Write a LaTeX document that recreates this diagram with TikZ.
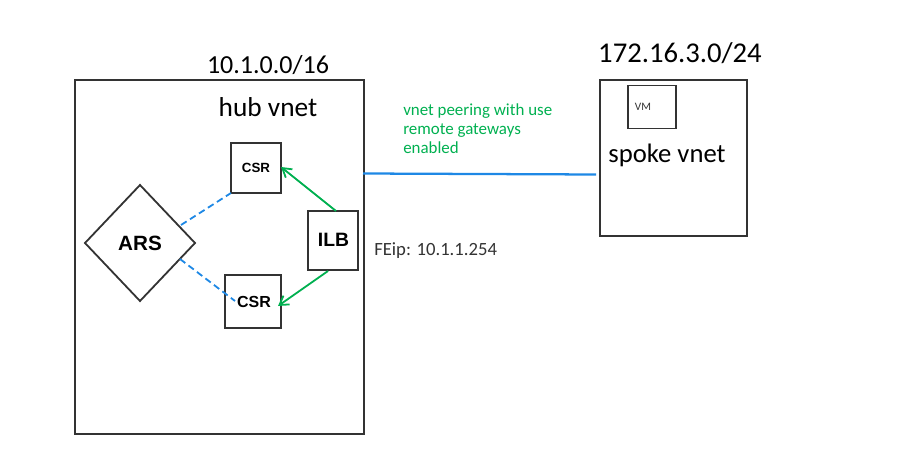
\documentclass[tikz,border=0pt]{standalone}
\usepackage{fontspec}
\setmainfont{Carlito}
\newfontfamily\labelsans{Liberation Sans}
\usetikzlibrary{arrows.meta,shapes.geometric}
\definecolor{linedark}{HTML}{333333}
\definecolor{peerblue}{HTML}{1E88E5}
\definecolor{lbgreen}{HTML}{00B050}
\tikzset{
  x=0.75pt,y=-0.75pt,
  box/.style={draw=linedark,line width=1.35pt,fill=white,rectangle,inner sep=0pt,outer sep=0pt,anchor=north west},
  boldlabel/.style={font=\labelsans\bfseries\fontsize{#1}{#1}\selectfont,text=black},
  hand/.style={font=\fontsize{#1}{#1}\selectfont,text=black,inner sep=0pt},
  dashlink/.style={draw=peerblue,line width=1.35pt,dash pattern=on 5pt off 3pt},
  greenlink/.style={draw=lbgreen,line width=1.35pt,-{Straight Barb[length=6.5pt,width=8pt]}},
}
\begin{document}
\begin{tikzpicture}
\useasboundingbox (0,0) rectangle (897,467);
\node[box,minimum width=216.75pt,minimum height=265.5pt] (hub) at (75,80) {};
\node[box,minimum width=110.25pt,minimum height=117pt] (spoke) at (600,80) {};
\node[box,minimum width=36pt,minimum height=32.25pt] (vm) at (628,85.5) {};
\node[box,minimum width=37.5pt,minimum height=37.5pt] (csra) at (231,143) {};
\node[box,minimum width=42pt,minimum height=39.75pt] (csrb) at (225,275) {};
\node[box,minimum width=37.5pt,minimum height=44.25pt] (ilb) at (308,211) {};
\node[draw=linedark,line width=1.35pt,fill=white,diamond,aspect=0.95,minimum width=82.5pt,minimum height=87pt,inner sep=0pt,outer sep=0pt] (ars) at (140,243) {};

\coordinate (peerA) at (363,173.5);
\coordinate (peerB) at (596,174.5);
\coordinate (dashA) at (181,225);
\coordinate (dashB) at (180,259);
\coordinate (dashC) at (235,301);
\coordinate (ilbA) at (336,211);
\coordinate (ilbB) at (328,271);
\coordinate (csrA) at (281,167);
\coordinate (csrB) at (278,306);

\draw[draw=peerblue,line width=1.7pt] (peerA) -- (peerB);
\draw[dashlink] (dashA) -- (csra.south west);
\draw[dashlink] (dashB) -- (dashC);
\draw[greenlink] (ilbA) -- (csrA);
\draw[greenlink] (ilbB) -- (csrB);

\node[boldlabel=10] (t1) at (256,168) {CSR};
\node[boldlabel=12] (t2) at (254,302) {CSR};
\node[boldlabel=14.5] (t3) at (333.5,240) {ILB};
\node[boldlabel=15.5] (t4) at (140,243) {ARS};
\node[hand=19.5] (t5) at (268,65) {10.1.0.0/16};
\node[hand=20.5] (t6) at (268,107) {hub vnet};
\node[hand=21.5] (t7) at (680,53) {172.16.3.0/24};
\node[hand=20] (t8) at (667,155) {spoke vnet};
\node[hand=8.5,text=linedark] (t9) at (643,107) {VM};
\node[hand=14,text=linedark,anchor=west] (t10) at (374,251) {FEip: 10.1.1.254};
\node[hand=12.7,text=lbgreen,anchor=north west,align=left] (t11) at (403,103) {vnet peering with use\\[1.9pt]remote gateways\\[1.9pt]enabled};
\end{tikzpicture}
\end{document}
